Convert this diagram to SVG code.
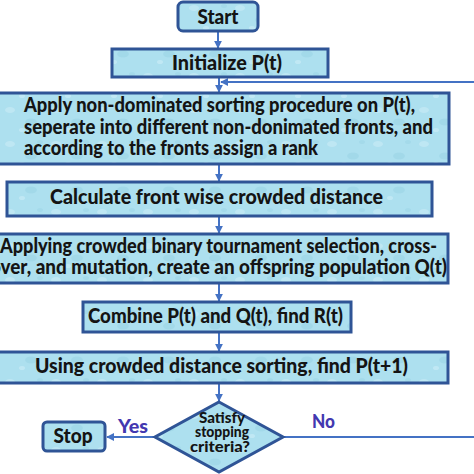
<svg xmlns="http://www.w3.org/2000/svg" width="474" height="474" viewBox="0 0 474 474">
<defs>
<pattern id="drops" width="46" height="34" patternUnits="userSpaceOnUse">
<rect width="46" height="34" fill="#ade0ef"/>
<ellipse cx="10" cy="8" rx="5" ry="3" fill="#c9ebf5" opacity="0.6"/>
<ellipse cx="31" cy="20" rx="6" ry="3.5" fill="#98d1e4" opacity="0.5"/>
<ellipse cx="22" cy="28" rx="3" ry="2" fill="#cdedf6" opacity="0.6"/>
<ellipse cx="40" cy="6" rx="3" ry="2" fill="#9bd3e6" opacity="0.5"/>
</pattern>
<marker id="ah" viewBox="0 0 10 10" refX="9" refY="5" markerWidth="4" markerHeight="4" orient="auto">
<path d="M0,0 L10,5 L0,10 z" fill="#4472c4"/>
</marker>
<style>
.box{fill:url(#drops);stroke:#2f5496;stroke-width:3}
.t{font-family:Lato,"Liberation Sans",sans-serif;font-weight:900;fill:#141414}
.m{font-size:20px}
.c{text-anchor:middle}
.con{stroke:#4472c4;stroke-width:2;fill:none;marker-end:url(#ah)}
.plain{stroke:#4472c4;stroke-width:2;fill:none}
.lab{font-family:Lato,"Liberation Sans",sans-serif;font-weight:900;fill:#4338b0}
</style>
</defs>
<g id="connectors">
<line class="con" x1="218" y1="31" x2="218" y2="48"/>
<line class="con" x1="219" y1="77" x2="219" y2="92"/>
<line class="con" x1="476" y1="82" x2="221" y2="82"/>
<line class="con" x1="219" y1="164" x2="219" y2="181"/>
<line class="con" x1="219" y1="216" x2="219" y2="233"/>
<line class="con" x1="219" y1="283" x2="219" y2="301"/>
<line class="con" x1="219" y1="332" x2="219" y2="351"/>
<line class="con" x1="219" y1="383" x2="219" y2="401"/>
<line class="con" x1="155" y1="437" x2="107" y2="437"/>
<line class="plain" x1="283" y1="437" x2="476" y2="437"/>
<text class="lab" x="118" y="433" font-size="18" textLength="30" lengthAdjust="spacingAndGlyphs">Yes</text>
<text class="lab" x="312" y="428" font-size="18" textLength="23" lengthAdjust="spacingAndGlyphs">No</text>
</g>
<g id="start">
<rect class="box" x="178" y="2" width="80" height="29" rx="5"/>
<text class="t m c" x="218" y="24" textLength="41" lengthAdjust="spacingAndGlyphs">Start</text>
</g>
<g id="init">
<rect class="box" x="112" y="49" width="216" height="28"/>
<text class="t m c" x="227" y="70" textLength="110" lengthAdjust="spacingAndGlyphs">Initialize P(t)</text>
</g>
<g id="sort">
<rect class="box" x="-2" y="93" width="451" height="71"/>
<text class="t m" x="24" y="112" textLength="391" lengthAdjust="spacingAndGlyphs">Apply non-dominated sorting procedure on P(t),</text>
<text class="t m" x="24" y="133.5" textLength="409" lengthAdjust="spacingAndGlyphs">seperate into different non-donimated fronts, and</text>
<text class="t m" x="24" y="155" textLength="294" lengthAdjust="spacingAndGlyphs">according to the fronts assign a rank</text>
</g>
<g id="crowd">
<rect class="box" x="7" y="182" width="425" height="34"/>
<text class="t m" x="50" y="204" textLength="333" lengthAdjust="spacingAndGlyphs">Calculate front wise crowded distance</text>
</g>
<g id="select">
<rect class="box" x="-2" y="234" width="450" height="49"/>
<text class="t m" x="0" y="253" textLength="437" lengthAdjust="spacingAndGlyphs">Applying crowded binary tournament selection, cross-</text>
<text class="t m" x="-10" y="274" textLength="457" lengthAdjust="spacingAndGlyphs">over, and mutation,  create an offspring population Q(t)</text>
</g>
<g id="combine">
<rect class="box" x="83" y="302" width="268" height="30"/>
<text class="t m" x="88" y="323" textLength="255" lengthAdjust="spacingAndGlyphs">Combine P(t) and Q(t), find R(t)</text>
</g>
<g id="select2">
<rect class="box" x="-2" y="352" width="450" height="31"/>
<text class="t m" x="35" y="373" textLength="373" lengthAdjust="spacingAndGlyphs">Using crowded distance sorting, find P(t+1)</text>
</g>
<g id="decision">
<polygon class="box" points="219,402 283,437 219,472 155,437"/>
<text class="t c" font-size="15" x="222" y="423" textLength="46" lengthAdjust="spacingAndGlyphs">Satisfy</text>
<text class="t c" font-size="15" x="222" y="437" textLength="54" lengthAdjust="spacingAndGlyphs">stopping</text>
<text class="t c" font-size="15" x="220" y="452" textLength="60" lengthAdjust="spacingAndGlyphs">criteria?</text>
</g>
<g id="stop">
<rect class="box" x="43" y="422" width="62" height="29" rx="4"/>
<text class="t c" font-size="20" x="73" y="443" textLength="39" lengthAdjust="spacingAndGlyphs">Stop</text>
</g>
</svg>
